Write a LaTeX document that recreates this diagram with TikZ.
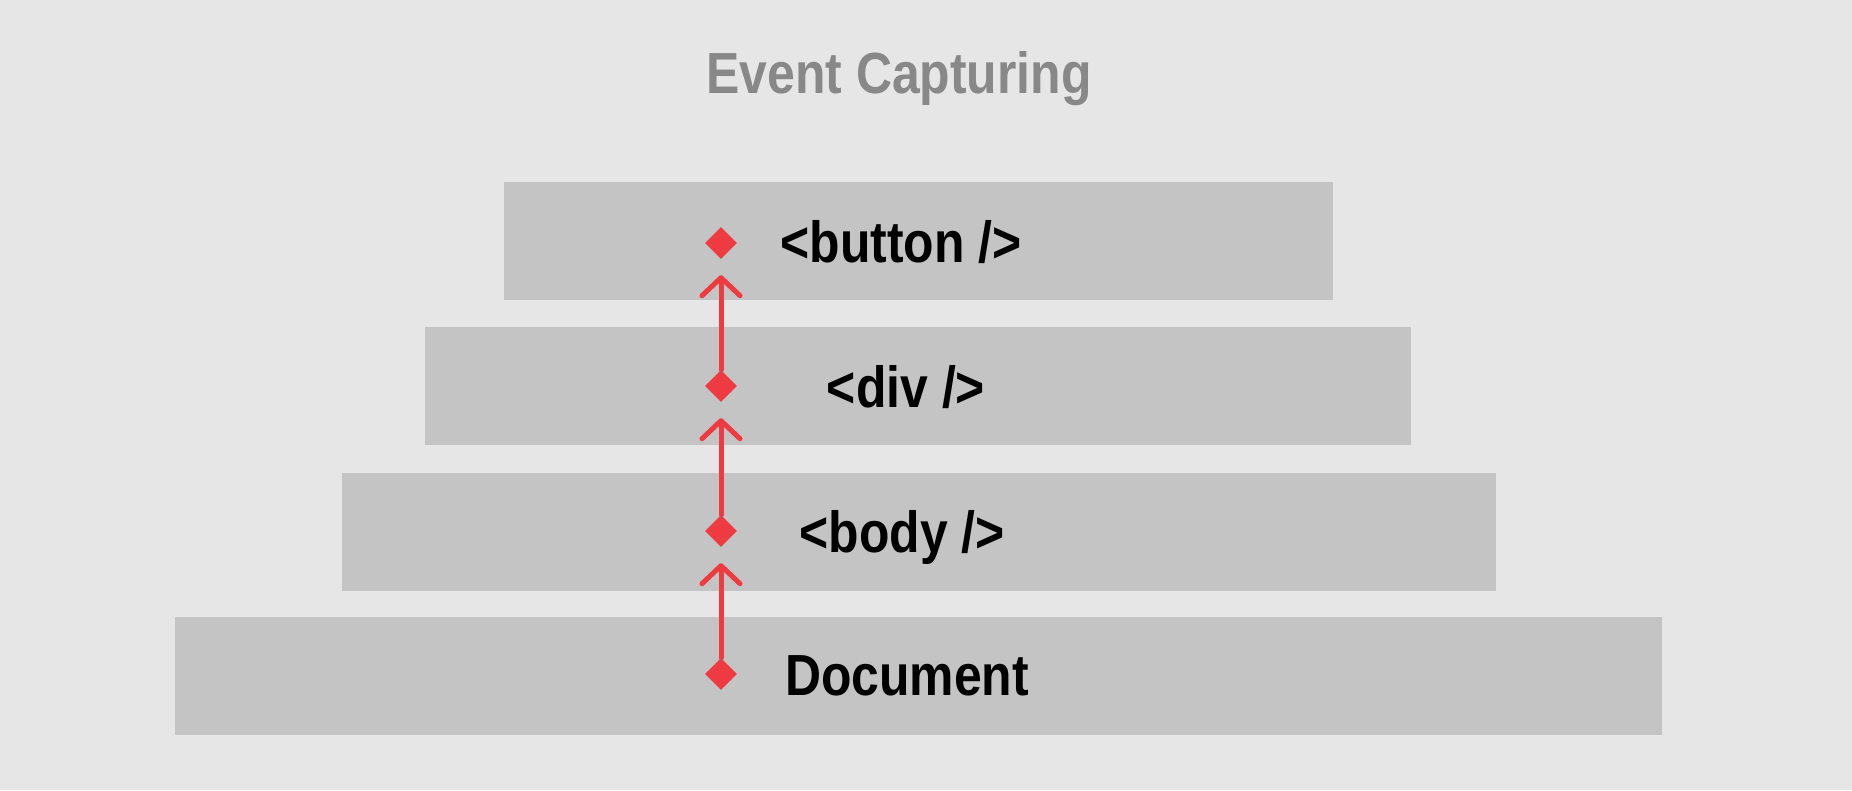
\documentclass[tikz,border=0pt]{standalone}
\usepackage{fontspec}
\setmainfont{Liberation Sans}[FakeStretch=0.86]
\usetikzlibrary{arrows.meta, positioning, shapes.geometric}
\definecolor{bgcol}{HTML}{E6E6E6}
\definecolor{boxcol}{HTML}{C4C4C4}
\definecolor{evred}{HTML}{EE3B41}
\definecolor{titlecol}{HTML}{888888}

\begin{document}
\begin{tikzpicture}[
        x=1pt, y=-1pt,
        layer/.style={rectangle, fill=boxcol, minimum height=118pt, inner sep=0pt},
        dot/.style={diamond, fill=evred, minimum size=32pt, inner sep=0pt},
        tag/.style={anchor=base, font=\fontsize{58}{70}\selectfont\bfseries},
        edge/.style={-{Straight Barb[length=18pt, width=38pt, round, line width=5pt]}, draw=evred,
            line width=5pt, line cap=round, shorten >=16pt}
    ]
        % 背景
        \fill[bgcol] (0,0) rectangle (1852,790);
        \useasboundingbox (0,0) rectangle (1852,790);

        % 标题
        \node[tag, text=titlecol] (title) at (899,93) {Event Capturing};

        % 四层矩形
        \path
            (918.5,241)  node[layer, minimum width=829pt]  (btnbox) {}
            (918,386)    node[layer, minimum width=986pt]  (divbox) {}
            (919,532)    node[layer, minimum width=1154pt] (bodybox) {}
            (918.5,676)  node[layer, minimum width=1487pt] (docbox) {};

        % 标签
        \node[tag] (btnlbl)  at (901,262) {<button />};
        \node[tag] (divlbl)  at (906,407) {<div />};
        \node[tag] (bodylbl) at (902,552) {<body />};
        \node[tag] (doclbl)  at (907,695) {Document};

        % 菱形
        \path
            (721,243) node[dot] (btn)  {}
            (721,386) node[dot] (dv)   {}
            (721,531) node[dot] (bdy)  {}
            (721,674) node[dot] (doc)  {};

        % 箭头
        \draw[edge] (dv)  -- (btn);
        \draw[edge] (bdy) -- (dv);
        \draw[edge] (doc) -- (bdy);
    \end{tikzpicture}
\end{document}
